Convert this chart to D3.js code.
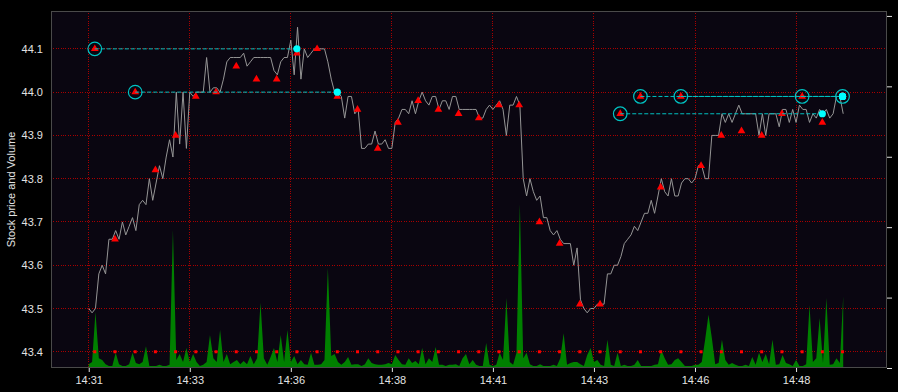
<!DOCTYPE html>
<html>
<head>
<meta charset="utf-8">
<script src="https://cdn.jsdelivr.net/npm/d3@7"></script>
<style>
  body { margin: 0; background: #000; }
  svg { display: block; font-family: "Liberation Sans", Arial, sans-serif; }
</style>
</head>
<body>
<svg id="chart" width="898" height="392"></svg>
<script>
// Sampling: one price/volume sample every 5 s starting 14:31:00
const START = new Date(2024, 0, 1, 14, 31, 0);
const STEP = 5;

const price = [
  43.50, 43.49, 43.50, 43.58, 43.60, 43.58, 43.66, 43.66, 43.68, 43.66,
  43.70, 43.67, 43.69, 43.71, 43.68, 43.74, 43.75, 43.74, 43.80, 43.75,
  43.79, 43.83, 43.80, 43.85, 43.89, 43.85, 44.00, 43.88, 44.00, 43.87,
  44.00, 43.99, 44.00, 44.00, 44.00, 44.08, 44.00, 44.01, 44.01, 44.00,
  44.03, 44.07, 44.08, 44.08, 44.08, 44.08, 44.09, 44.06, 44.07, 44.08,
  44.08, 44.08, 44.08, 44.08, 44.08, 44.05, 44.04, 44.07, 44.08, 44.08,
  44.12, 44.04, 44.15, 44.03, 44.10, 44.08, 44.09, 44.10, 44.10, 44.10,
  44.10, 44.07, 44.03, 44.00, 44.00, 43.99, 43.94, 43.99, 43.99, 43.95,
  43.96, 43.87, 43.87, 43.88, 43.88, 43.91, 43.88, 43.88, 43.89, 43.87,
  43.87, 43.93, 43.94, 43.96, 43.96, 43.95, 43.98, 43.95, 43.98, 44.00,
  43.98, 43.97, 43.99, 43.99, 43.96, 43.98, 43.98, 43.96, 43.99, 43.99,
  43.96, 43.96, 43.96, 43.96, 43.96, 43.96, 43.94, 43.94, 43.96, 43.97,
  43.96, 43.97, 43.98, 43.96, 43.90, 43.97, 43.97, 43.99, 43.97, 43.80,
  43.76, 43.80, 43.77, 43.75, 43.76, 43.71, 43.71, 43.68, 43.67, 43.68,
  43.66, 43.65, 43.65, 43.65, 43.60, 43.64, 43.52, 43.50, 43.49, 43.50,
  43.50, 43.51, 43.51, 43.51, 43.58, 43.58, 43.60, 43.60, 43.62, 43.65,
  43.66, 43.67, 43.69, 43.68, 43.70, 43.72, 43.72, 43.75, 43.72, 43.76,
  43.80, 43.77, 43.76, 43.80, 43.76, 43.76, 43.79, 43.80, 43.80, 43.79,
  43.80, 43.83, 43.83, 43.80, 43.80, 43.90, 43.90, 43.90, 43.95, 43.93,
  43.95, 43.93, 43.95, 43.97, 43.95, 43.95, 43.95, 43.95, 43.95, 43.90,
  43.95, 43.90, 43.95, 43.95, 43.95, 43.92, 43.96, 43.96, 43.93, 43.96,
  43.93, 43.97, 43.96, 43.96, 43.93, 43.95, 43.94, 43.96, 43.95, 43.96,
  43.94, 43.95, 43.99, 43.99, 43.95
];

const volume = [
  110, 170, 1590, 280, 230, 110, 60, 60, 430, 110,
  60, 60, 110, 430, 140, 110, 170, 620, 60, 60,
  60, 90, 60, 60, 90, 3920, 230, 400, 170, 570,
  170, 400, 170, 60, 90, 170, 940, 280, 170, 1080,
  170, 400, 110, 170, 230, 110, 200, 110, 340, 110,
  280, 1850, 280, 90, 310, 570, 170, 940, 170, 1080,
  170, 340, 110, 230, 110, 90, 430, 90, 90, 110,
  230, 2840, 340, 400, 170, 90, 170, 310, 90, 110,
  110, 60, 110, 280, 140, 110, 90, 90, 110, 140,
  110, 370, 230, 110, 90, 280, 140, 200, 110, 570,
  110, 280, 170, 600, 90, 90, 60, 90, 90, 110,
  60, 280, 400, 110, 230, 90, 60, 60, 710, 90,
  60, 90, 430, 230, 1990, 170, 90, 430, 4650, 280,
  430, 110, 60, 60, 110, 60, 60, 60, 90, 60,
  280, 990, 90, 140, 170, 170, 110, 60, 370, 570,
  170, 230, 90, 60, 800, 90, 60, 430, 60, 90,
  60, 60, 90, 230, 60, 60, 60, 60, 90, 110,
  510, 280, 90, 110, 230, 280, 170, 60, 60, 60,
  90, 90, 170, 800, 1510, 850, 110, 140, 800, 230,
  90, 140, 90, 60, 60, 90, 60, 310, 90, 430,
  170, 400, 110, 800, 90, 110, 370, 140, 110, 60,
  230, 60, 60, 110, 1790, 170, 280, 1420, 140, 1990,
  90, 110, 280, 140, 2040
];

// Markers every 30 s, first one 9 s after the start
const MARK_OFFSET = 9;
const MARK_STEP = 30;
const markPrice = [
  44.10, 43.66, 44.00, 43.82, 43.90, 43.99, 44.00, 44.06, 44.03, 44.03,
  44.09, 44.10, 43.99, 43.96, 43.87, 43.93, 43.98, 43.96, 43.95, 43.94,
  43.97, 43.97, 43.70, 43.65, 43.51, 43.51, 43.95, 43.99, 43.78, 43.99,
  43.83, 43.90, 43.91, 43.90, 43.95, 43.99, 43.93, 43.99
];
const floorLevel = 43.4; // square markers

// Circled markers and the marker where each signal ends
const signalStart = [0, 2, 26, 27, 29, 35, 37];
const signalEnd = [10, 12, 36, 37, 37, 37, 37];

const priceTicks = [43.4, 43.5, 43.6, 43.7, 43.8, 43.9, 44.0, 44.1];
const volumeTicks = [0, 2000, 4000, 6000, 8000, 10000];
const timeTicks = [0, 150, 300, 450, 600, 750, 900, 1050]; // seconds after START

const svg = d3.select("#chart");
const width = +svg.attr("width");
const height = +svg.attr("height");
const margin = { top: 11, right: 11, bottom: 24, left: 51 };
const plotL = margin.left, plotR = width - margin.right;
const plotT = margin.top, plotB = height - margin.bottom;

const sec = s => new Date(START.getTime() + s * 1000);
const x = d3.scaleTime().domain([sec(-56), sec(1185)]).range([plotL, plotR]);
const y = d3.scaleLinear().domain([43.3625, 44.1875]).range([plotB, plotT]);
const yVol = d3.scaleLinear().domain([0, 10140]).range([plotB, plotT]);

const markX = k => x(sec(MARK_OFFSET + k * MARK_STEP));

// plot background
svg.append("rect")
  .attr("x", plotL).attr("y", plotT)
  .attr("width", plotR - plotL).attr("height", plotB - plotT)
  .attr("fill", "#0a0611");

// red dotted grid
const grid = svg.append("g")
  .attr("stroke", "#a80000")
  .attr("stroke-width", 1)
  .attr("stroke-dasharray", "1,1.4")
  .attr("shape-rendering", "crispEdges");
grid.selectAll("line.h").data(priceTicks).join("line")
  .attr("class", "h")
  .attr("x1", plotL).attr("x2", plotR)
  .attr("y1", d => y(d)).attr("y2", d => y(d));
grid.selectAll("line.v").data(timeTicks).join("line")
  .attr("class", "v")
  .attr("y1", plotT).attr("y2", plotB)
  .attr("x1", d => x(sec(d))).attr("x2", d => x(sec(d)));

// volume area
svg.append("path")
  .datum(volume)
  .attr("fill", "#008000")
  .attr("d", d3.area()
    .x((d, i) => x(sec(i * STEP)))
    .y0(plotB)
    .y1(d => yVol(d)));

// price line
svg.append("path")
  .datum(price)
  .attr("fill", "none")
  .attr("stroke", "#959595")
  .attr("stroke-width", 1)
  .attr("d", d3.line()
    .x((d, i) => x(sec(i * STEP)))
    .y(d => y(d)));

// red triangles
svg.append("g").selectAll("path").data(markPrice).join("path")
  .attr("fill", "#ff0000")
  .attr("transform", (d, k) => `translate(${markX(k)},${y(d)})`)
  .attr("d", d3.symbol(d3.symbolTriangle, 26));

// red squares along 43.4
svg.append("g").selectAll("rect").data(markPrice).join("rect")
  .attr("fill", "#ff0000")
  .attr("x", (d, k) => markX(k) - 1.5)
  .attr("y", y(floorLevel) - 1.5)
  .attr("width", 3).attr("height", 3);

// signal lines
svg.append("g").selectAll("line").data(signalStart).join("line")
  .attr("stroke", "#00c0c0")
  .attr("stroke-width", 1)
  .attr("stroke-dasharray", "4,2")
  .attr("x1", k => markX(k))
  .attr("x2", (k, i) => markX(signalEnd[i]))
  .attr("y1", k => y(markPrice[k]))
  .attr("y2", k => y(markPrice[k]));

// open circles on signal markers
svg.append("g").selectAll("circle").data(signalStart).join("circle")
  .attr("fill", "none")
  .attr("stroke", "#00c4c4")
  .attr("stroke-width", 1.2)
  .attr("r", 6.8)
  .attr("cx", k => markX(k))
  .attr("cy", k => y(markPrice[k]));

// filled dots where signals end
svg.append("g").selectAll("circle").data(signalStart).join("circle")
  .attr("fill", "#00ffff")
  .attr("r", 3.6)
  .attr("cx", (k, i) => markX(signalEnd[i]))
  .attr("cy", k => y(markPrice[k]));

// frame
svg.append("rect")
  .attr("x", plotL + 0.5).attr("y", plotT + 0.5)
  .attr("width", plotR - plotL - 1).attr("height", plotB - plotT - 1)
  .attr("fill", "none")
  .attr("stroke", "#4a4a4a");

// axes
const textColor = "#e2e2e2";
const fontSize = 11;
function styleAxis(g) {
  g.select(".domain").remove();
  g.selectAll("line").attr("stroke", textColor);
  g.selectAll("text").attr("fill", textColor).attr("font-size", fontSize)
    .attr("font-family", "Liberation Sans, Arial, sans-serif");
}

svg.append("g")
  .attr("transform", `translate(0,${plotB})`)
  .call(d3.axisBottom(x)
    .tickValues(timeTicks.map(sec))
    .tickFormat(d3.timeFormat("%H:%M"))
    .tickSize(4)
    .tickPadding(4))
  .call(styleAxis);

svg.append("g")
  .attr("transform", `translate(${plotL},0)`)
  .call(d3.axisLeft(y)
    .tickValues(priceTicks)
    .tickFormat(d3.format(".1f"))
    .tickSize(0)
    .tickPadding(8))
  .call(styleAxis);

svg.append("g")
  .attr("transform", `translate(${plotR},0)`)
  .call(d3.axisRight(yVol)
    .tickValues(volumeTicks)
    .tickFormat("")
    .tickSize(5))
  .call(styleAxis);

// axis title
svg.append("text")
  .attr("transform", `translate(15,${(plotT + plotB) / 2}) rotate(-90)`)
  .attr("text-anchor", "middle")
  .attr("fill", textColor)
  .attr("font-size", fontSize)
  .text("Stock price and Volume");
</script>
</body>
</html>
